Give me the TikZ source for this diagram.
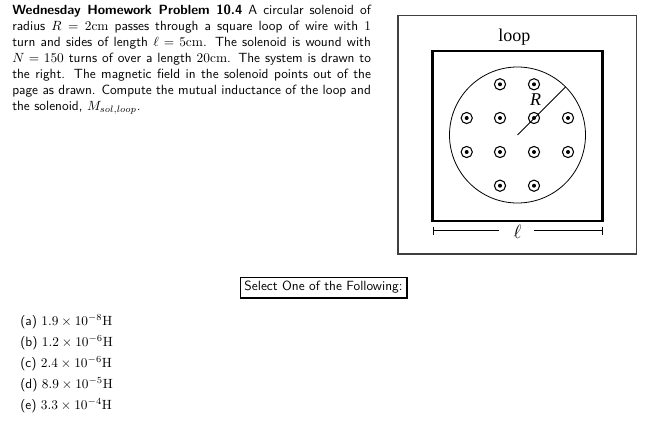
\documentclass[tikz,border=0pt]{standalone}
\usepackage{amsmath}
\usepackage{amssymb}
\usepackage{fontspec}
\newfontfamily\figfont{Liberation Serif}
\usepackage{xcolor}
\tikzset{
  wirering/.style={draw,circle,inner sep=0pt,minimum size=8.4pt,line width=0.8pt},
  wiredot/.style={fill,circle,inner sep=0pt,minimum size=3pt},
  answer/.style={anchor=base west,inner sep=0pt,font=\sffamily},
  figtext/.style={inner sep=0pt,font=\figfont\fontsize{13.5}{16}\selectfont}
}
\begin{document}
\begin{tikzpicture}[x=0.75pt,y=-0.75pt]
  \useasboundingbox (0,0) rectangle (653,422);
  \node[anchor=north west,inner sep=0pt,text width=269pt,align=justify,font=\sffamily] (problem) at (12,4.2)
    {\textbf{Wednesday Homework Problem 10.4} A circular solenoid of radius $R=2\mathrm{cm}$ passes through a square loop of wire with $1$ turn and sides of length $\ell=5\mathrm{cm}$. The solenoid is wound with $N=150$ turns of over a length $20\mathrm{cm}$. The system is drawn to the right. The magnetic field in the solenoid points out of the page as drawn. Compute the mutual inductance of the loop and the solenoid, $M_{sol,loop}$.};

  \draw[line width=0.8pt,color=black!75] (398,15.7) rectangle (636.7,254);
  \node[figtext] (looplabel) at (514.3,37.5) {loop};
  \draw[line width=1.9pt] (432.5,51) rectangle (602.7,221);
  \node[draw,circle,inner sep=0pt,minimum size=102pt,line width=0.6pt] (solenoid) at (517.5,135) {};

  % wires
  \foreach \x in {500,534} {
    \foreach \y in {84.3,185.7} {
      \node[wirering] at (\x,\y) {};
      \node[wiredot] at (\x,\y) {};
    }
  }
  \foreach \x in {466.7,500,534,568} {
    \foreach \y in {118,152} {
      \node[wirering] at (\x,\y) {};
      \node[wiredot] at (\x,\y) {};
    }
  }

  \coordinate (centre) at (solenoid.center);
  \draw[line width=0.6pt] (centre) -- (solenoid.45);
  \node[figtext,font=\figfont\itshape\fontsize{13.5}{16}\selectfont] (Rlabel) at (535.7,99.5) {R};

  \coordinate (left) at (432.5,230.5);
  \coordinate (right) at (602.5,230.5);
  \node[inner sep=0pt] (elllabel) at (517.5,231.5) {\fontsize{13.5}{16}\selectfont$\ell$};
  \draw[|-,line width=0.5pt] (left) -- (499,230.5);
  \draw[-|,line width=0.5pt] (534,230.5) -- (right);

  \node[draw,line width=1pt,inner sep=0pt,minimum width=125pt,minimum height=15.5pt,font=\sffamily] (select) at (323.5,287.5) {Select One of the Following:};

  \node[answer] (a) at (20,325) {(a) $1.9\times10^{-8}\mathrm{H}$};
  \node[answer] (b) at (20,346) {(b) $1.2\times10^{-6}\mathrm{H}$};
  \node[answer] (c) at (20,367) {(c) $2.4\times10^{-6}\mathrm{H}$};
  \node[answer] (d) at (20,388) {(d) $8.9\times10^{-5}\mathrm{H}$};
  \node[answer] (e) at (20,409.5) {(e) $3.3\times10^{-4}\mathrm{H}$};
\end{tikzpicture}
\end{document}
